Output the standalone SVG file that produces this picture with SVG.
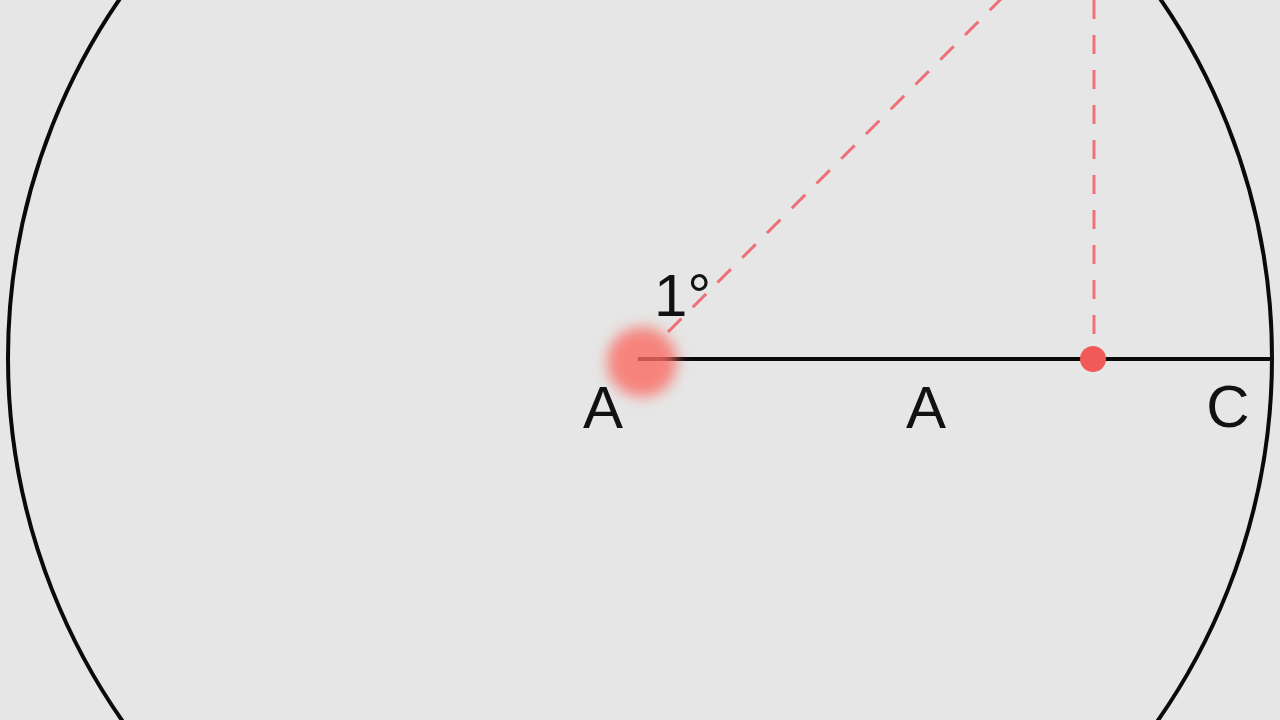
<svg xmlns="http://www.w3.org/2000/svg" width="1280" height="720" viewBox="0 0 1280 720">
<defs>
<style>
.lbl{font-family:"Liberation Sans",Arial,sans-serif;font-size:60px;fill:#111;}
.dash{stroke:#f07078;stroke-width:3;stroke-dasharray:19 16;fill:none;}
</style>
<filter id="blur" x="-50%" y="-50%" width="200%" height="200%"><feGaussianBlur stdDeviation="7"/></filter>
</defs>
<rect width="1280" height="720" fill="#e6e6e6"/>
<g id="circle"><circle cx="640" cy="358" r="632" fill="none" stroke="#0a0a0a" stroke-width="4"/></g>
<g id="connectors">
<line class="dash" x1="668" y1="332" x2="1012" y2="-12"/>
<line class="dash" x1="1094" y1="0" x2="1094" y2="346"/>
<line x1="638" y1="359" x2="1272" y2="359" stroke="#0a0a0a" stroke-width="4"/>
</g>
<g id="center-glow"><circle cx="642" cy="362" r="35" fill="#fa6a62" fill-opacity="0.8" filter="url(#blur)"/></g>
<g id="point"><circle cx="1093" cy="359" r="13" fill="#f25a5a"/></g>
<g id="labels">
<text class="lbl" x="603" y="428" text-anchor="middle">A</text>
<text class="lbl" x="926" y="428" text-anchor="middle">A</text>
<text class="lbl" x="1228" y="427" text-anchor="middle">C</text>
<text class="lbl" x="654" y="316" font-size="56">1°</text>
</g>
</svg>
